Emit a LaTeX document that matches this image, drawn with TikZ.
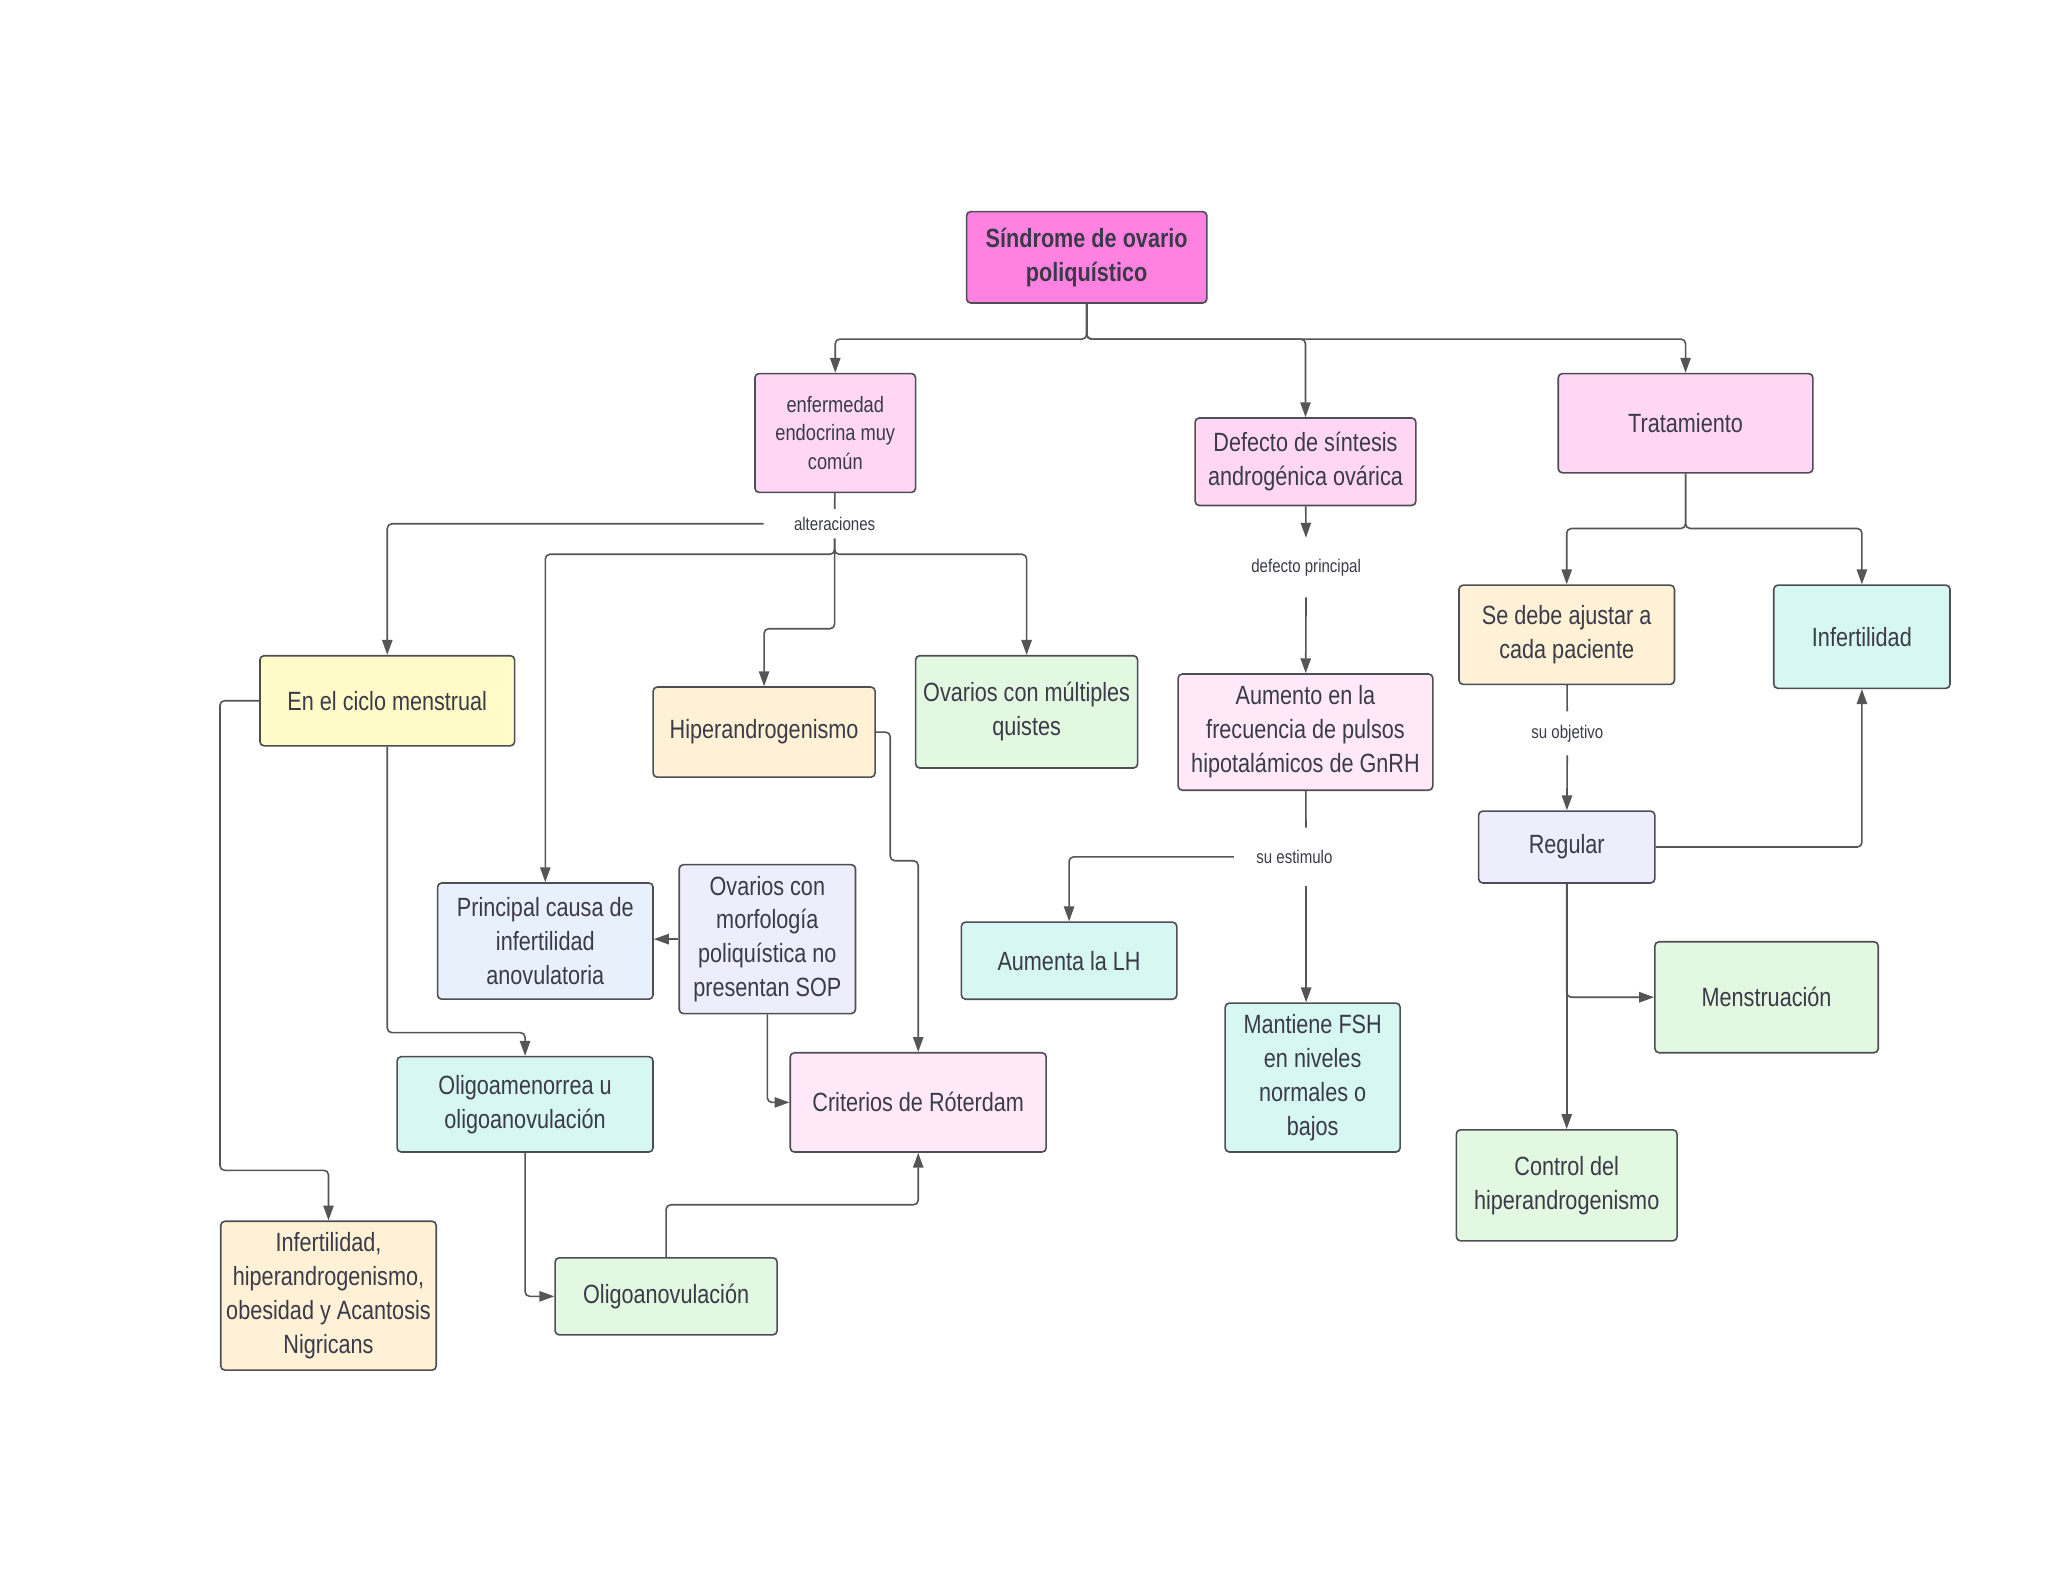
\documentclass[tikz,border=0pt]{standalone}
\usepackage{fontspec}
\setmainfont[FakeStretch=0.82]{Liberation Sans}
\usepackage{tikz}
\usetikzlibrary{arrows.meta}
\definecolor{texto}{HTML}{3A3A48}
\definecolor{borde}{HTML}{4D4D55}
\definecolor{gris}{HTML}{555555}
\definecolor{magenta}{HTML}{FF82E0}
\definecolor{rosa}{HTML}{FFD6F3}
\definecolor{rosaclaro}{HTML}{FFE9F9}
\definecolor{amarillo}{HTML}{FFFAC8}
\definecolor{durazno}{HTML}{FFF1D6}
\definecolor{verde}{HTML}{E3F8E0}
\definecolor{cian}{HTML}{D6F7F2}
\definecolor{azulado}{HTML}{E8F0FC}
\definecolor{lila}{HTML}{EDEDFC}

\begin{document}
\begin{tikzpicture}[x=0.02cm, y=-0.02cm,
    caja/.style={rectangle, rounded corners=1.8pt, draw=borde, line width=0.7pt, text=texto, align=center, inner sep=0pt, font=\fontsize{11.5}{14.8}\selectfont},
    etiqueta/.style={rectangle, inner sep=0pt, text=texto, font=\fontsize{8}{10}\selectfont},
    conector/.style={draw=gris, line width=0.7pt, rounded corners=2pt},
    flecha/.style={conector, -{Triangle[length=6.5pt,width=4.5pt]}}]
            \useasboundingbox (0,0) rectangle (1568,1211);

            % nivel superior
            \node[caja, fill=magenta, font=\fontsize{11.5}{14.8}\selectfont\bfseries, minimum width=3.68cm, minimum height=1.40cm] at (832, 197) (sop) {Síndrome de ovario\\poliquístico};
            \node[caja, fill=rosa, font=\fontsize{9.7}{12.5}\selectfont, minimum width=2.46cm, minimum height=1.82cm] at (639.5, 331.5) (enf) {enfermedad\\endocrina muy\\común};
            \node[caja, fill=rosa, minimum width=3.38cm, minimum height=1.34cm] at (999.5, 353.5) (def) {Defecto de síntesis\\androgénica ovárica};
            \node[caja, fill=rosa, minimum width=3.90cm, minimum height=1.52cm] at (1290.5, 324) (trat) {Tratamiento};

            % etiquetas de los conectores
            \node[etiqueta, minimum width=2.16cm, minimum height=0.44cm] at (639, 401) (alter) {alteraciones};
            \node[etiqueta, minimum width=1.90cm, minimum height=0.90cm] at (1000, 434.5) (defprin) {defecto principal};
            \node[etiqueta, minimum width=2.20cm, minimum height=0.88cm] at (1000, 656) (estim) {\hspace*{-0.36cm}su estimulo};
            \node[etiqueta, minimum width=1.50cm, minimum height=0.66cm] at (1200, 561.5) (objetivo) {su objetivo};

            % rama de alteraciones
            \node[caja, fill=amarillo, minimum width=3.90cm, minimum height=1.38cm] at (296.5, 536.5) (ciclo) {En el ciclo menstrual};
            \node[caja, fill=durazno, minimum width=3.40cm, minimum height=1.38cm] at (585, 560.5) (hiper) {Hiperandrogenismo};
            \node[caja, fill=verde, minimum width=3.40cm, minimum height=1.72cm] at (786, 545) (quistes) {Ovarios con múltiples\\quistes};
            \node[caja, fill=azulado, minimum width=3.30cm, minimum height=1.78cm] at (417.5, 720.5) (principal) {Principal causa de\\infertilidad\\anovulatoria};
            \node[caja, fill=lila, minimum width=2.70cm, minimum height=2.28cm] at (587.5, 719) (morfo) {Ovarios con\\morfología\\poliquística no\\presentan SOP};
            \node[caja, fill=rosaclaro, minimum width=3.92cm, minimum height=1.52cm] at (703, 844) (criterios) {Criterios de Róterdam};
            \node[caja, fill=cian, minimum width=3.92cm, minimum height=1.46cm] at (402, 845.5) (oligoam) {Oligoamenorrea u\\oligoanovulación};
            \node[caja, fill=durazno, minimum width=3.30cm, minimum height=2.28cm] at (251.5, 992) (infobes) {Infertilidad,\\hiperandrogenismo,\\obesidad y Acantosis\\Nigricans};
            \node[caja, fill=verde, minimum width=3.40cm, minimum height=1.18cm] at (510, 992.5) (oligoan) {Oligoanovulación};

            % rama del defecto
            \node[caja, fill=rosaclaro, minimum width=3.90cm, minimum height=1.78cm] at (999.5, 560.5) (aumento) {Aumento en la\\frecuencia de pulsos\\hipotalámicos de GnRH};
            \node[caja, fill=cian, minimum width=3.30cm, minimum height=1.18cm] at (818.5, 735.5) (lh) {Aumenta la LH};
            \node[caja, fill=cian, minimum width=2.68cm, minimum height=2.28cm] at (1005, 825) (fsh) {Mantiene FSH\\en niveles\\normales o\\bajos};

            % rama del tratamiento
            \node[caja, fill=durazno, minimum width=3.30cm, minimum height=1.52cm] at (1199.5, 486) (ajustar) {Se debe ajustar a\\cada paciente};
            \node[caja, fill=cian, minimum width=2.70cm, minimum height=1.58cm] at (1425.5, 487.5) (infert) {Infertilidad};
            \node[caja, fill=lila, minimum width=2.70cm, minimum height=1.10cm] at (1199.5, 648.5) (regular) {Regular};
            \node[caja, fill=verde, minimum width=3.42cm, minimum height=1.70cm] at (1352.5, 763.5) (menst) {Menstruación};
            \node[caja, fill=verde, minimum width=3.38cm, minimum height=1.70cm] at (1199.5, 907.5) (control) {Control del\\hiperandrogenismo};

            % conectores
            \draw[flecha] (sop.south) -- ++(0,27) -| (enf.north);
            \draw[flecha] (sop.south) -- ++(0,27) -| (def.north);
            \draw[flecha] (sop.south) -- ++(0,27) -| (trat.north);

            \draw[conector] (enf) -- (alter);
            \draw[flecha] (alter.west) -| (ciclo.north);
            \draw[flecha] (alter.south) -- ++(0,12) -| (principal.north);
            \draw[flecha] (alter.south) -- ++(0,12) -| (quistes.north);
            \draw[flecha] (alter.south) -- ++(0,69) -| (hiper.north);

            \draw[flecha] (ciclo.west) -- ++(-30,0) -- ++(0,359.5) -| (infobes.north);
            \draw[flecha] (ciclo.south) -- ++(0,219) -| (oligoam.north);
            \draw[flecha] (morfo.west) -- (morfo.west -| principal.east);
            \draw[flecha] (morfo.south) |- (criterios.west);
            \draw[flecha] (hiper.east) -- ++(11,0) -- ++(0,98.5) -| (criterios.north);
            \draw[flecha] (oligoam.south) |- (oligoan.west);
            \draw[flecha] (oligoan.north) -- ++(0,-40) -| (criterios.south);

            \draw[flecha] (def) -- (defprin);
            \draw[flecha] (defprin) -- (aumento);
            \draw[conector] (aumento) -- (estim);
            \draw[flecha] (estim.west) -| (lh.north);
            \draw[flecha] (estim.south) -- (estim.south |- fsh.north);

            \draw[flecha] (trat.south) -- ++(0,42) -| (ajustar.north);
            \draw[flecha] (trat.south) -- ++(0,42) -| (infert.north);
            \draw[conector] (ajustar) -- (objetivo);
            \draw[flecha] (objetivo) -- (regular);
            \draw[flecha] (regular.east) -| (infert.south);
            \draw[flecha] (regular.south) |- (menst.west);
            \draw[flecha] (regular) -- (control);
        \end{tikzpicture}
\end{document}
